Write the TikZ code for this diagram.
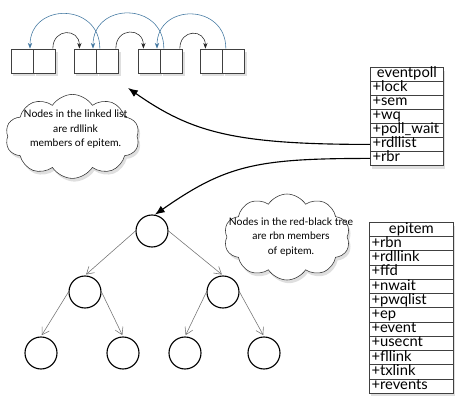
\documentclass[tikz,border=0pt]{standalone}
\usepackage{fontspec}
\setmainfont{Lato}
\usepackage{tikz}
\usetikzlibrary{positioning, shapes.symbols, shadows, arrows.meta}

\definecolor{linkblue}{RGB}{64,118,160}

\tikzset{
  softshadow/.style={drop shadow={opacity=0.25, shadow xshift=0.05cm, shadow yshift=-0.08cm}},
  cell/.style={draw=black!75, semithick, fill=white, minimum width=0.55cm, minimum height=0.6cm, inner sep=0pt, softshadow},
  field/.style={draw=black!75, semithick, fill=white, anchor=north west, inner xsep=1.5pt, inner ysep=0pt,
    text height=7pt, text depth=2pt, align=left, font=\fontsize{10.5}{10.5}\selectfont, softshadow},
  evfield/.style={field, text width=48.9pt, minimum height=0.35cm},
  epfield/.style={field, text width=56.7pt, minimum height=0.356cm},
  treenode/.style={circle, draw, thick, fill=white, minimum size=0.8cm, inner sep=0pt},
  treeedge/.style={draw=black!55, -{Straight Barb[length=5pt, width=6pt]}, shorten >=1pt},
  nextarrow/.style={draw=black!85, -{Stealth[length=4pt, width=3pt]}},
  prevarrow/.style={draw=linkblue, -{Stealth[length=4pt, width=3pt]}},
  mainarrow/.style={draw=black, thick, -{Latex[length=7pt, width=5.5pt]}},
  cloudbox/.style={cloud, cloud puffs=10, cloud puff arc=115, cloud ignores aspect, draw=black!80, fill=white, softshadow},
  cloudtext/.style={align=center, font=\fontsize{7.4}{10.5}\selectfont}
}

\begin{document}
\begin{tikzpicture}

\useasboundingbox (0,0) rectangle (11.85,10.3);

\foreach \x [count=\i] in {0.55, 2.125, 3.725, 5.275} {
\node[cell] (la\i) at (\x, 8.775) {};
\node[cell, right=0pt of la\i] (lb\i) {};
}

\foreach \i in {1, 2, 3} {
\pgfmathtruncatemacro\j{\i+1}
\draw[nextarrow] ([xshift=0.2cm]lb\i.north) to[out=90, in=90, looseness=2] ([xshift=-0.14cm]la\j.north);
\draw[prevarrow] ([xshift=-0.2cm]lb\j.north) to[out=90, in=90, looseness=1.7] ([xshift=0.2cm]la\i.north);
}

\node[cloudbox, minimum width=3.35cm, minimum height=2.1cm,
  label={[cloudtext, xshift=0.08cm, yshift=0.18cm]center:Nodes in the linked list\\are rdllink\\members of epitem.}] (cloudlist) at (1.81, 6.89) {};

\node[cloudbox, minimum width=3.15cm, minimum height=2.15cm,
  label={[cloudtext, xshift=0.1cm]center:Nodes in the red-black tree\\are rbn members\\of epitem.}] (cloudtree) at (7.175, 4.375) {};

\node[evfield, align=center] (ev0) at (9.25, 8.625) {eventpoll};
\foreach \f [count=\i] in {+lock, +sem, +wq, +poll\_wait, +rdllist, +rbr} {
\node[evfield] (ev\i) at (9.25, {8.625-0.35*\i}) {\f};
}

\node[epfield, align=center] (ep0) at (9.225, 4.75) {epitem};
\foreach \f [count=\i] in {+rbn, +rdllink, +ffd, +nwait, +pwqlist, +ep, +event, +usecnt, +fllink, +txlink, +revents} {
\node[epfield] (ep\i) at (9.225, {4.75-0.356*\i}) {\f};
}

\node[treenode] (root) at (3.8, 4.525) {};
\node[treenode] (n1) at (2.125, 3) {};
\node[treenode] (n2) at (5.575, 3) {};
\node[treenode] (n11) at (1.025, 1.475) {};
\node[treenode] (n12) at (3.075, 1.475) {};
\node[treenode] (n21) at (4.625, 1.475) {};
\node[treenode] (n22) at (6.6, 1.475) {};

\draw[treeedge] (root.west) -- (n1.north);
\draw[treeedge] (root.east) -- (n2.north);
\draw[treeedge] (n1.west) -- (n11.north);
\draw[treeedge] (n1.east) -- (n12.north);
\draw[treeedge] (n2.west) -- (n21.north);
\draw[treeedge] (n2.east) -- (n22.north);

\coordinate (listend) at (3.2, 8.1);
\draw[mainarrow] (ev5.west) to[out=180, in=-35, out looseness=1.4, in looseness=0.8] (listend);
\draw[mainarrow] (ev6.west) to[out=180, in=35, out looseness=1.3] (root.80);

\end{tikzpicture}
\end{document}
